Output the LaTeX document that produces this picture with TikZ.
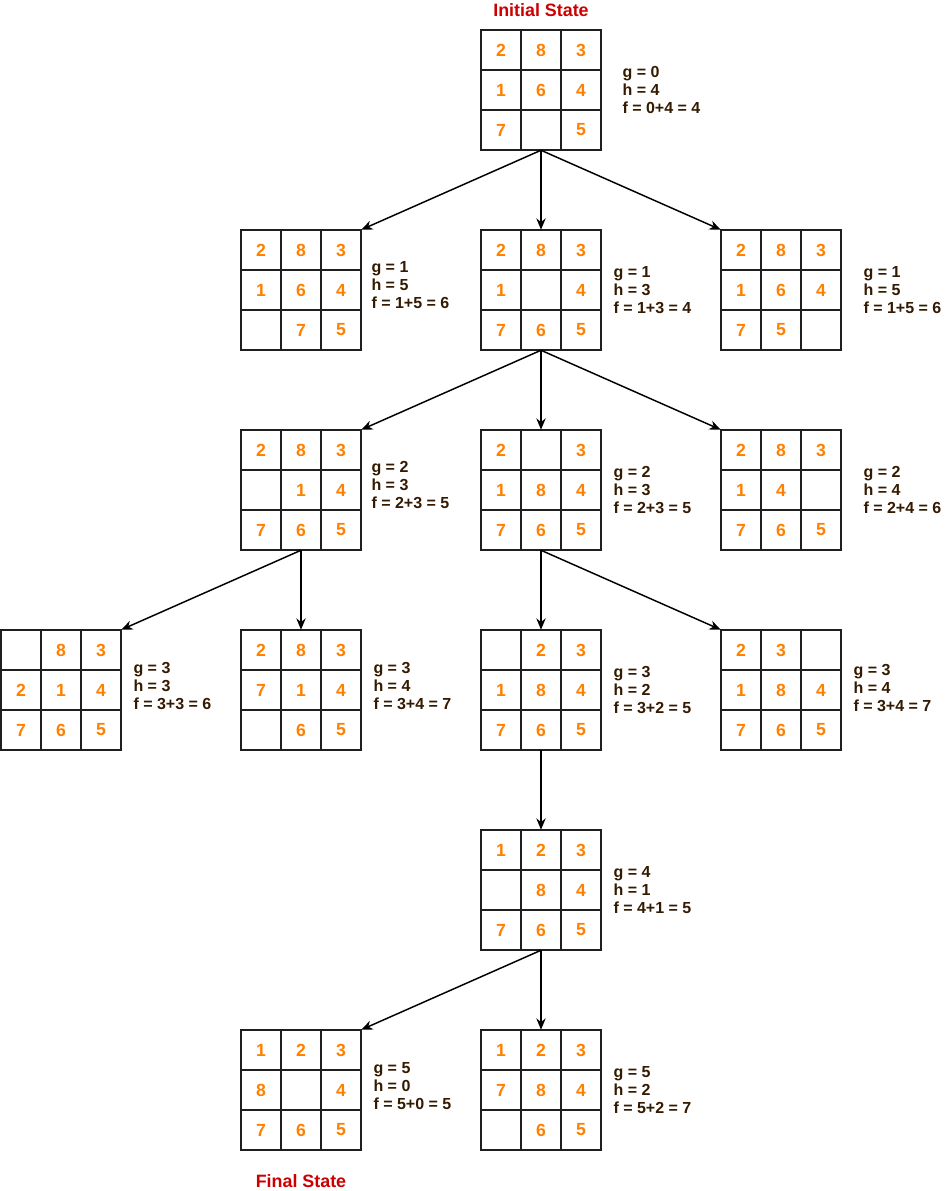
\documentclass[tikz,border=0pt]{standalone}
\usepackage{fontspec}
\setmainfont{Liberation Sans}
\usepackage{xcolor}
\usetikzlibrary{arrows.meta,positioning}

\definecolor{tile}{RGB}{255,128,0}
\definecolor{note}{RGB}{51,26,0}
\definecolor{title}{RGB}{204,0,0}

% one 8-puzzle board: name, x, y, tiles, label shift, label
\newcommand{\puzzle}[6]{%
  \node[board] (#1) at (#2,#3) {};
  \foreach \t [count=\k from 0] in {#4} {
    \pgfmathtruncatemacro{\col}{mod(\k,3)}
    \pgfmathtruncatemacro{\row}{div(\k,3)}
    \node[cell] (#1-\k) at ({#2+40*(\col-1)},{#3+40*(\row-1)}) {\t};
  }
  \node[info] (#1-info) at ([shift={#5}]#1.east) {#6};
}

\begin{document}
\begin{tikzpicture}[x=0.75pt, y=-0.75pt,
    board/.style={minimum size=90pt, inner sep=0pt},
    cell/.style={draw=black!88, line width=1.5pt, minimum size=30pt, inner sep=0pt,
      text=tile, font=\bfseries\fontsize{13.2}{15}\selectfont},
    info/.style={anchor=west, inner sep=0pt, align=left, text=note,
      font=\bfseries\fontsize{12}{13.5}\selectfont},
    state/.style={inner sep=0pt, text=title, font=\bfseries\fontsize{13.4}{15}\selectfont},
    arr/.style={-{Stealth[length=8.5pt, width=7pt]}, line width=1.1pt}]
  \useasboundingbox (0,0) rectangle (952,1191);

  % root
  \puzzle{s0}{541}{90}{2,8,3,1,6,4,7,{},5}{(21,0)}{g = 0\\h = 4\\f = 0+4 = 4}
  \node[state, above=9.75pt of s0] (start) {Initial State};

  % depth 1
  \puzzle{s1a}{301}{290}{2,8,3,1,6,4,{},7,5}{(10,-5)}{g = 1\\h = 5\\f = 1+5 = 6}
  \puzzle{s1b}{541}{290}{2,8,3,1,{},4,7,6,5}{(12,0)}{g = 1\\h = 3\\f = 1+3 = 4}
  \puzzle{s1c}{781}{290}{2,8,3,1,6,4,7,5,{}}{(22,0)}{g = 1\\h = 5\\f = 1+5 = 6}

  % depth 2
  \puzzle{s2a}{301}{490}{2,8,3,{},1,4,7,6,5}{(10,-5)}{g = 2\\h = 3\\f = 2+3 = 5}
  \puzzle{s2b}{541}{490}{2,{},3,1,8,4,7,6,5}{(12,0)}{g = 2\\h = 3\\f = 2+3 = 5}
  \puzzle{s2c}{781}{490}{2,8,3,1,4,{},7,6,5}{(22,0)}{g = 2\\h = 4\\f = 2+4 = 6}

  % depth 3
  \puzzle{s3a}{61}{690}{{},8,3,2,1,4,7,6,5}{(12,-4)}{g = 3\\h = 3\\f = 3+3 = 6}
  \puzzle{s3b}{301}{690}{2,8,3,7,1,4,{},6,5}{(12,-4)}{g = 3\\h = 4\\f = 3+4 = 7}
  \puzzle{s3c}{541}{690}{{},2,3,1,8,4,7,6,5}{(12,0)}{g = 3\\h = 2\\f = 3+2 = 5}
  \puzzle{s3d}{781}{690}{2,3,{},1,8,4,7,6,5}{(12,-2)}{g = 3\\h = 4\\f = 3+4 = 7}

  % depth 4
  \puzzle{s4}{541}{890}{1,2,3,{},8,4,7,6,5}{(12,0)}{g = 4\\h = 1\\f = 4+1 = 5}

  % depth 5
  \puzzle{s5a}{301}{1090}{1,2,3,8,{},4,7,6,5}{(12,-4)}{g = 5\\h = 0\\f = 5+0 = 5}
  \puzzle{s5b}{541}{1090}{1,2,3,7,8,4,{},6,5}{(12,0)}{g = 5\\h = 2\\f = 5+2 = 7}
  \node[state, below=18pt of s5a] (goal) {Final State};

  % expansions
  \draw[arr] (s0.south) -- (s1a.north east);
  \draw[arr] (s0.south) -- (s1b.north);
  \draw[arr] (s0.south) -- (s1c.north west);
  \draw[arr] (s1b.south) -- (s2a.north east);
  \draw[arr] (s1b.south) -- (s2b.north);
  \draw[arr] (s1b.south) -- (s2c.north west);
  \draw[arr] (s2a.south) -- (s3a.north east);
  \draw[arr] (s2a.south) -- (s3b.north);
  \draw[arr] (s2b.south) -- (s3c.north);
  \draw[arr] (s2b.south) -- (s3d.north west);
  \draw[arr] (s3c.south) -- (s4.north);
  \draw[arr] (s4.south) -- (s5a.north east);
  \draw[arr] (s4.south) -- (s5b.north);
\end{tikzpicture}
\end{document}
